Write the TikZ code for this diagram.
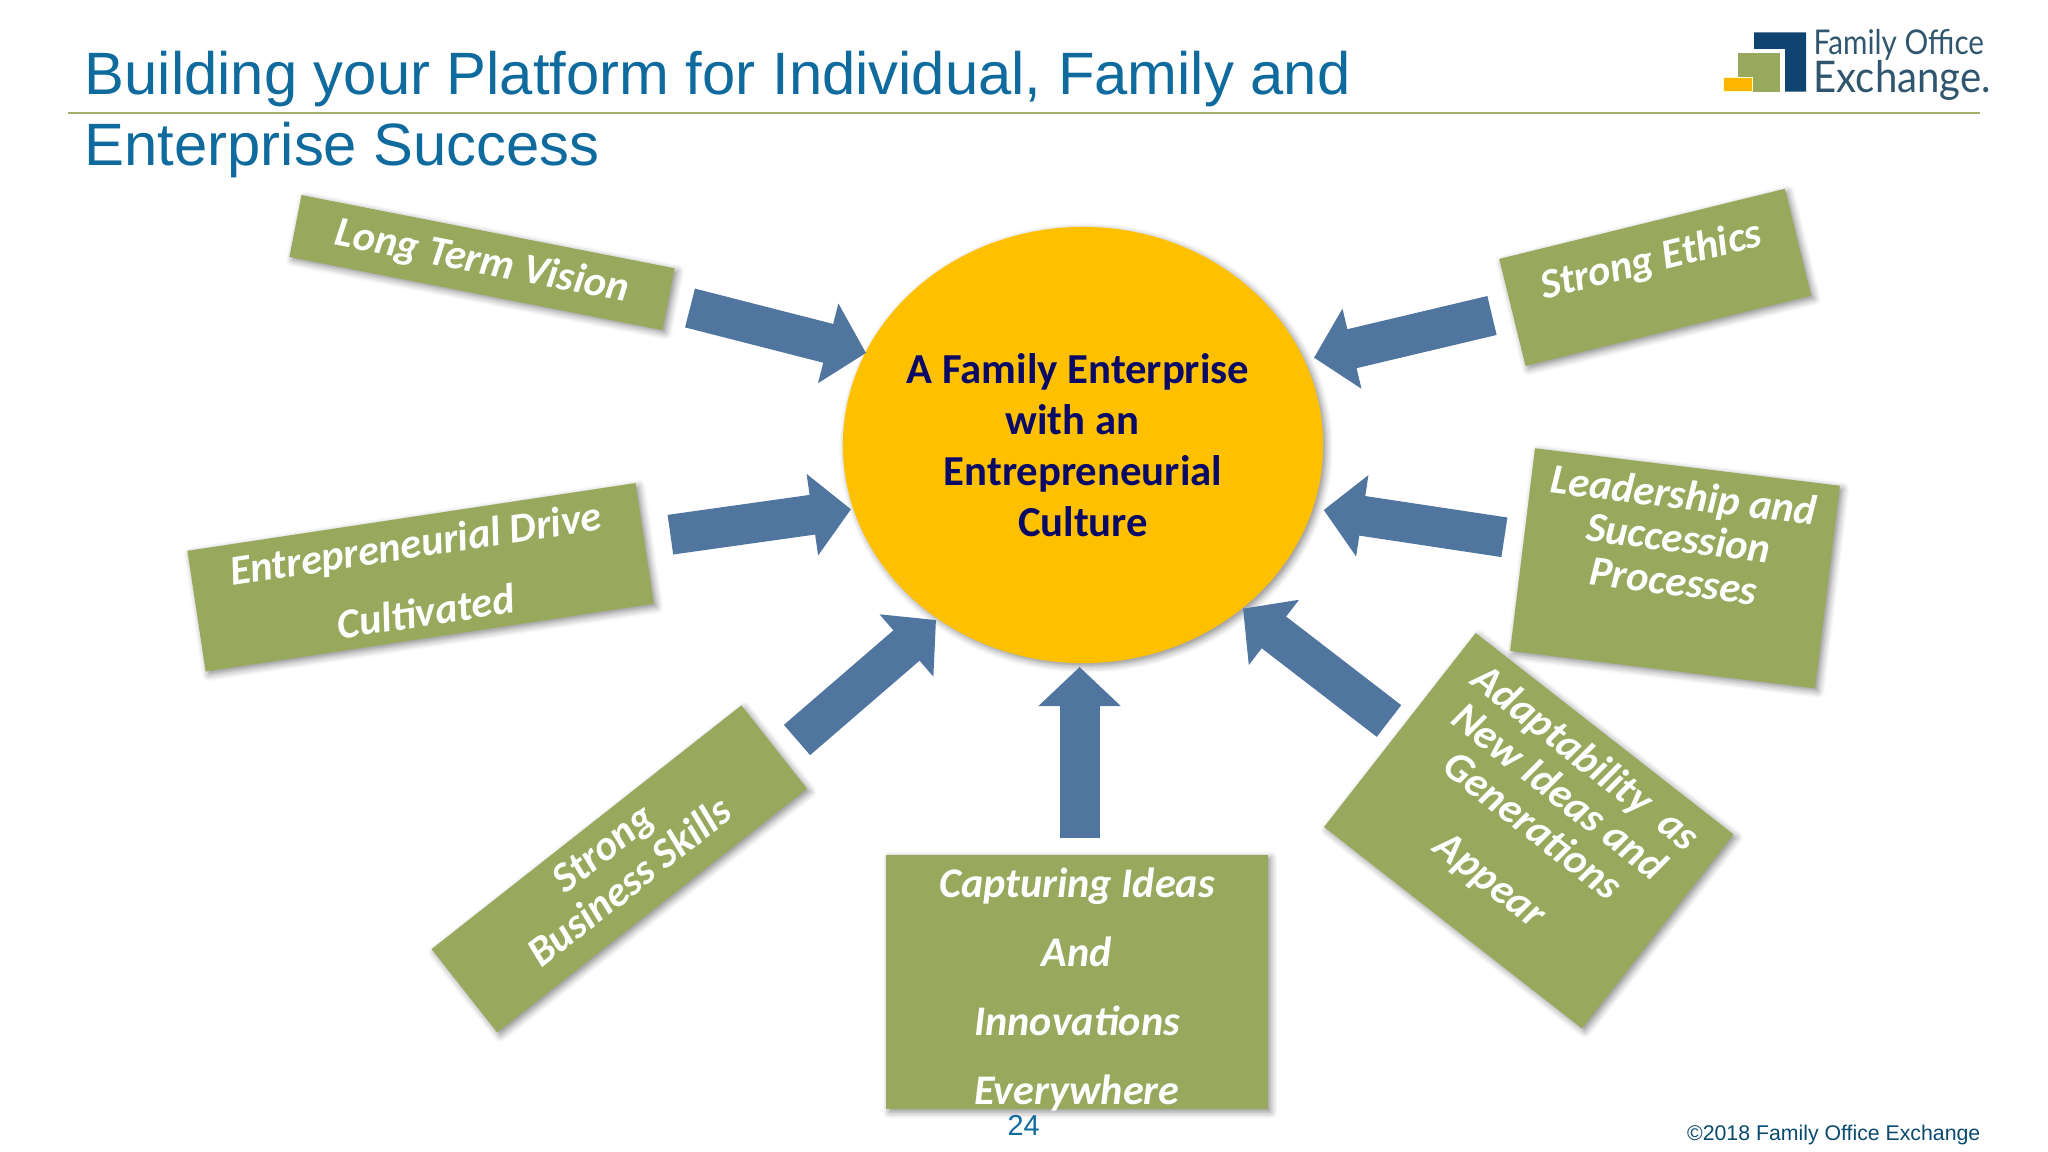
\documentclass[tikz,border=0pt]{standalone}
\usepackage{fontspec}
\setmainfont{Carlito}
\newfontfamily\headfont{Liberation Sans}
\newfontfamily\logofont{Lato}
\usetikzlibrary{arrows.meta,shapes.geometric,shadows.blur}
\definecolor{boxgreen}{HTML}{98A95D}
\definecolor{arrowblue}{HTML}{50759E}
\definecolor{hubgold}{HTML}{FFC000}
\definecolor{hubnavy}{HTML}{0A0A66}
\definecolor{titleblue}{HTML}{0F6A9E}
\definecolor{rulegreen}{HTML}{A3B06E}
\definecolor{logonavy}{HTML}{0F4470}
\definecolor{logotext}{HTML}{2F566E}

\begin{document}
\begin{tikzpicture}[
  x = 0.01cm, y = -0.01cm,
  soft/.style = {blur shadow={shadow xshift=.03cm,shadow yshift=-.03cm,shadow blur steps=5,shadow opacity=45}},
  box/.style = {fill=boxgreen,soft,inner sep=0,align=center,text=white,font=\fontsize{12}{12.3}\selectfont\bfseries\itshape},
  wide/.style = {font=\fontsize{12}{19.6}\selectfont\bfseries\itshape},
  block/.style = {draw=arrowblue,line width=.4cm,-{Triangle[length=.39cm,width=.8cm]}},
  ]
  \useasboundingbox (0,0) rectangle (2048,1152);

  % heading
  \node[anchor=north west,inner sep=0,align=left,text=titleblue,font=\fontsize{17}{20.4}\selectfont\headfont] (title) at (84,50)
    {Building your Platform for Individual, Family and\\Enterprise Success};
  \coordinate (ruleL) at (68,113.5);
  \coordinate (ruleR) at (1980,113.5);
  \draw[rulegreen,line width=.02cm] (ruleL) -- (ruleR);

  % logo
  \fill[logonavy] (1754,32.3) -- (1806,32.3) -- (1806,91.7) -- (1785,91.7) -- (1785,49) -- (1754,49) -- cycle;
  \fill[boxgreen] (1738.3,53.3) rectangle (1780,91.7);
  \fill[hubgold!85!orange,draw=yellow!25,line width=.01cm] (1723.3,77.3) rectangle (1752.3,91.7);
  \node[anchor=base west,inner sep=0,xscale=.87,text=logotext,font=\fontsize{9.7}{10}\selectfont\logofont] (logoa) at (1813,55) {Family Office};
  \node[anchor=base west,inner sep=0,xscale=.92,text=logotext,font=\fontsize{12.4}{10}\selectfont\logofont] (logob) at (1813,93) {Exchange.};

  % centre
  \node[ellipse,fill=hubgold,soft,minimum width=4.8cm,minimum height=4.36cm,inner sep=-.5cm,align=center,text=hubnavy,
    font=\fontsize{12.15}{14.5}\selectfont\bfseries] (hub) at (1083,445)
    {A Family Enterprise\hspace*{.1cm}\mbox{}\\with an\hspace*{.21cm}\mbox{}\\Entrepreneurial\\Culture};

  % boxes
  \node[box,rotate=-11.1,minimum width=3.8cm,minimum height=.63cm] (vision) at (482,262.6) {Long Term Vision};
  \node[box,wide,rotate=8.6,minimum width=4.53cm,minimum height=1.22cm] (drive) at (420.6,577.3)
    {Entrepreneurial Drive\\Cultivated};
  \node[box,rotate=38.2,minimum width=3.94cm,minimum height=1.06cm] (skills) at (619.3,868.9)
    {Strong\\Business Skills\\[-.33cm]\mbox{}};
  \node[box,wide,minimum width=3.81cm,minimum height=2.54cm] (ideas) at (1077,982)
    {\mbox{}\\[-.31cm]Capturing Ideas\\And\\Innovations\\\smash{Everywhere}};
  \node[box,rotate=13.8,minimum width=2.94cm,minimum height=1.1cm] (ethics) at (1655.2,277.3)
    {Strong Ethics\\[-.04cm]\mbox{}};
  \node[box,rotate=-7,minimum width=3.07cm,minimum height=2.04cm] (lead) at (1675,568.3)
    {Leadership and\\Succession\\Processes\\[.19cm]\mbox{}};
  \node[box,rotate=-38,minimum width=3.27cm,minimum height=2.46cm] (adapt) at (1528.8,830.7)
    {Adaptability\ \ as\\New Ideas and\\Generations\\[.25cm]Appear\\[-.1cm]\mbox{}};

  % arrows
  \coordinate (visionT) at (690,308);
  \coordinate (visionH) at (866,353);
  \coordinate (driveT) at (670.4,534.7);
  \coordinate (driveH) at (851,509.3);
  \coordinate (skillsT) at (797,740);
  \coordinate (skillsH) at (936,620);
  \coordinate (ideasT) at (1079.6,838.4);
  \coordinate (ideasH) at (1079.6,667);
  \coordinate (ethicsT) at (1492,315.5);
  \coordinate (ethicsH) at (1314,357.7);
  \coordinate (leadT) at (1504.4,537.3);
  \coordinate (leadH) at (1323.7,510);
  \coordinate (adaptT) at (1389,721);
  \coordinate (adaptH) at (1243,608.6);
  \foreach \a in {vision,drive,skills,ideas,ethics,lead,adapt}
    \draw[block] (\a T) -- (\a H);

  % footer
  \node[inner sep=0,text=titleblue,font=\fontsize{8.2}{10}\selectfont\headfont] (page) at (1023.7,1125) {24};
  \node[anchor=base east,inner sep=0,text=titleblue!70!black,font=\fontsize{6.05}{8}\selectfont\headfont] (copy) at (1981,1140) {\textcopyright 2018 Family Office Exchange};
\end{tikzpicture}
\end{document}
